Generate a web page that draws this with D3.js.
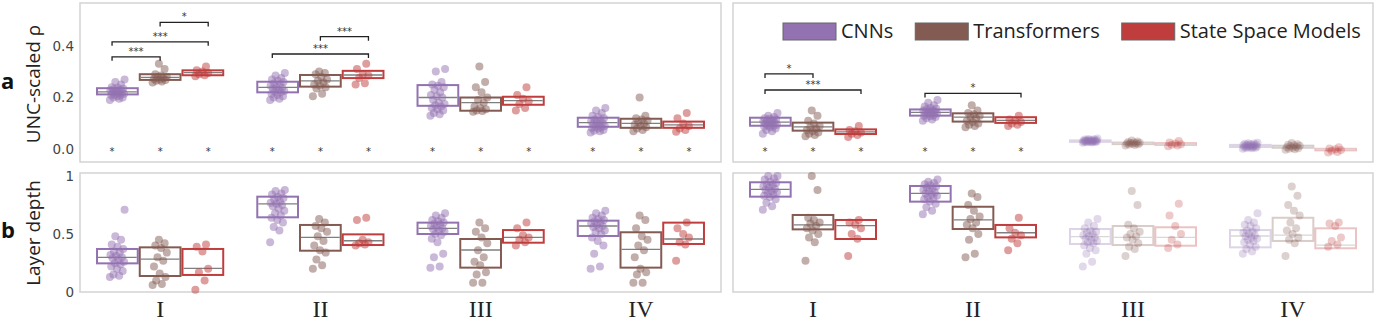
<!DOCTYPE html>
<html>
<head>
<meta charset="utf-8" />
<title>UNC-scaled rho and layer depth</title>
<script src="https://cdnjs.cloudflare.com/ajax/libs/d3/7.8.5/d3.min.js"></script>
<style>
  body { margin: 0; background: #fff; }
  svg { display: block; }
</style>
</head>
<body>
<svg id="chart" width="1376" height="322"></svg>
<script>
const groups = ['I', 'II', 'III', 'IV']
const models = ['CNNs', 'Transformers', 'State Space Models']
const colors = ['#9372b2', '#845b53', '#c03d3e']
const rhoTicks = [0.0, 0.2, 0.4]
const depthTicks = [0, 0.5, 1]

// box stats [q1, median, q3], per group then per model
const rhoLeftBoxes = [
  [[0.212, 0.222, 0.236], [0.268, 0.278, 0.290], [0.286, 0.296, 0.305]],
  [[0.220, 0.239, 0.261], [0.242, 0.264, 0.287], [0.275, 0.287, 0.303]],
  [[0.168, 0.200, 0.248], [0.149, 0.180, 0.200], [0.172, 0.188, 0.203]],
  [[0.087, 0.103, 0.122], [0.083, 0.100, 0.118], [0.083, 0.094, 0.107]]
]
const rhoRightBoxes = [
  [[0.091, 0.105, 0.122], [0.072, 0.087, 0.103], [0.059, 0.067, 0.077]],
  [[0.130, 0.143, 0.154], [0.107, 0.124, 0.139], [0.102, 0.112, 0.124]],
  [[0.029, 0.031, 0.034], [0.020, 0.023, 0.026], [0.017, 0.020, 0.024]],
  [[0.009, 0.013, 0.017], [0.006, 0.010, 0.014], [-0.004, 0.000, 0.002]]
]
const depthLeftBoxes = [
  [[0.247, 0.299, 0.371], [0.138, 0.284, 0.385], [0.147, 0.204, 0.371]],
  [[0.644, 0.759, 0.822], [0.356, 0.471, 0.578], [0.405, 0.442, 0.497]],
  [[0.500, 0.549, 0.598], [0.210, 0.362, 0.457], [0.425, 0.471, 0.534]],
  [[0.483, 0.569, 0.615], [0.210, 0.368, 0.515], [0.414, 0.457, 0.598]]
]
const depthRightBoxes = [
  [[0.822, 0.885, 0.946], [0.540, 0.578, 0.664], [0.457, 0.572, 0.621]],
  [[0.779, 0.851, 0.914], [0.543, 0.621, 0.735], [0.471, 0.511, 0.578]],
  [[0.414, 0.477, 0.543], [0.405, 0.471, 0.569], [0.399, 0.471, 0.558]],
  [[0.385, 0.483, 0.534], [0.440, 0.491, 0.640], [0.377, 0.405, 0.549]]
]

// individual model values, per group
const rhoLeftCNN = [
  [0.19, 0.195, 0.20, 0.20, 0.205, 0.21, 0.21, 0.212, 0.215, 0.218, 0.22, 0.222, 0.225, 0.228, 0.23, 0.232, 0.235, 0.238, 0.24, 0.25, 0.26, 0.27],
  [0.19, 0.195, 0.20, 0.205, 0.21, 0.215, 0.22, 0.222, 0.225, 0.23, 0.235, 0.238, 0.24, 0.245, 0.25, 0.255, 0.26, 0.265, 0.27, 0.275, 0.285, 0.295],
  [0.13, 0.135, 0.14, 0.15, 0.155, 0.16, 0.165, 0.17, 0.175, 0.18, 0.19, 0.20, 0.205, 0.21, 0.22, 0.23, 0.24, 0.245, 0.25, 0.26, 0.30, 0.31],
  [0.065, 0.07, 0.072, 0.075, 0.08, 0.082, 0.085, 0.088, 0.09, 0.095, 0.10, 0.102, 0.105, 0.108, 0.11, 0.115, 0.12, 0.125, 0.13, 0.14, 0.15, 0.16]
]
const rhoLeftTrans = [
  [0.258, 0.262, 0.265, 0.268, 0.27, 0.272, 0.275, 0.278, 0.28, 0.285, 0.29, 0.31, 0.33],
  [0.205, 0.215, 0.235, 0.24, 0.245, 0.25, 0.258, 0.265, 0.27, 0.28, 0.29, 0.295, 0.30],
  [0.145, 0.148, 0.15, 0.155, 0.16, 0.165, 0.18, 0.19, 0.20, 0.22, 0.24, 0.26, 0.32],
  [0.07, 0.075, 0.08, 0.085, 0.09, 0.095, 0.10, 0.105, 0.11, 0.115, 0.12, 0.13, 0.20]
]
const rhoLeftSSM = [
  [0.282, 0.286, 0.29, 0.295, 0.30, 0.305, 0.32],
  [0.25, 0.255, 0.275, 0.285, 0.29, 0.31, 0.33],
  [0.15, 0.16, 0.175, 0.185, 0.195, 0.21, 0.24],
  [0.068, 0.075, 0.08, 0.09, 0.10, 0.12, 0.14]
]
const rhoRightCNN = [
  [0.06, 0.07, 0.075, 0.08, 0.085, 0.088, 0.09, 0.092, 0.095, 0.098, 0.10, 0.103, 0.105, 0.108, 0.11, 0.112, 0.115, 0.118, 0.12, 0.125, 0.13, 0.14],
  [0.11, 0.115, 0.12, 0.125, 0.128, 0.13, 0.132, 0.135, 0.138, 0.14, 0.142, 0.145, 0.148, 0.15, 0.152, 0.155, 0.158, 0.16, 0.165, 0.17, 0.18, 0.19],
  [0.025, 0.026, 0.027, 0.028, 0.028, 0.029, 0.03, 0.03, 0.031, 0.031, 0.032, 0.032, 0.033, 0.033, 0.034, 0.035, 0.036, 0.037, 0.038, 0.039, 0.04, 0.042],
  [0.002, 0.004, 0.005, 0.006, 0.007, 0.008, 0.009, 0.01, 0.011, 0.012, 0.013, 0.014, 0.015, 0.016, 0.017, 0.018, 0.019, 0.02, 0.021, 0.022, 0.023, 0.025]
]
const rhoRightTrans = [
  [0.05, 0.055, 0.06, 0.065, 0.07, 0.075, 0.08, 0.085, 0.09, 0.10, 0.11, 0.13, 0.15],
  [0.085, 0.09, 0.095, 0.10, 0.105, 0.11, 0.12, 0.125, 0.13, 0.135, 0.14, 0.15, 0.17],
  [0.015, 0.017, 0.019, 0.02, 0.021, 0.022, 0.023, 0.024, 0.025, 0.026, 0.028, 0.03, 0.034],
  [-0.002, 0.0, 0.002, 0.004, 0.006, 0.008, 0.01, 0.012, 0.014, 0.016, 0.018, 0.02, 0.024]
]
const rhoRightSSM = [
  [0.048, 0.055, 0.06, 0.065, 0.07, 0.075, 0.09],
  [0.09, 0.095, 0.10, 0.105, 0.11, 0.115, 0.13],
  [0.012, 0.015, 0.018, 0.02, 0.022, 0.026, 0.032],
  [-0.012, -0.01, -0.006, -0.003, 0.0, 0.003, 0.008]
]
const depthLeftCNN = [
  [0.13, 0.14, 0.15, 0.18, 0.20, 0.22, 0.24, 0.25, 0.26, 0.28, 0.29, 0.30, 0.31, 0.32, 0.34, 0.35, 0.37, 0.39, 0.41, 0.45, 0.48, 0.71],
  [0.43, 0.53, 0.56, 0.60, 0.62, 0.64, 0.66, 0.68, 0.70, 0.72, 0.74, 0.75, 0.76, 0.77, 0.78, 0.80, 0.81, 0.82, 0.84, 0.85, 0.87, 0.88],
  [0.21, 0.22, 0.30, 0.33, 0.43, 0.46, 0.49, 0.50, 0.52, 0.53, 0.54, 0.55, 0.56, 0.57, 0.58, 0.59, 0.60, 0.61, 0.62, 0.64, 0.66, 0.68],
  [0.20, 0.22, 0.33, 0.40, 0.44, 0.47, 0.50, 0.52, 0.53, 0.55, 0.56, 0.57, 0.58, 0.59, 0.60, 0.61, 0.62, 0.63, 0.64, 0.66, 0.68, 0.70]
]
const depthLeftTrans = [
  [0.06, 0.07, 0.10, 0.13, 0.16, 0.22, 0.27, 0.30, 0.34, 0.38, 0.40, 0.42, 0.45],
  [0.20, 0.23, 0.28, 0.34, 0.36, 0.40, 0.44, 0.48, 0.52, 0.55, 0.57, 0.60, 0.63],
  [0.08, 0.08, 0.15, 0.17, 0.23, 0.26, 0.30, 0.36, 0.42, 0.47, 0.52, 0.55, 0.60],
  [0.08, 0.08, 0.15, 0.17, 0.20, 0.30, 0.36, 0.40, 0.45, 0.48, 0.55, 0.62, 0.66]
]
const depthLeftSSM = [
  [0.02, 0.10, 0.17, 0.20, 0.35, 0.39, 0.41],
  [0.40, 0.41, 0.42, 0.43, 0.45, 0.62, 0.64],
  [0.40, 0.43, 0.45, 0.47, 0.49, 0.55, 0.60],
  [0.27, 0.41, 0.43, 0.47, 0.50, 0.55, 0.60]
]
const depthRightCNN = [
  [0.71, 0.74, 0.77, 0.80, 0.82, 0.83, 0.84, 0.85, 0.86, 0.87, 0.88, 0.89, 0.90, 0.91, 0.92, 0.93, 0.94, 0.95, 0.97, 0.98, 1.0, 1.0],
  [0.67, 0.70, 0.73, 0.76, 0.78, 0.80, 0.81, 0.82, 0.83, 0.84, 0.85, 0.86, 0.87, 0.88, 0.89, 0.90, 0.91, 0.92, 0.93, 0.94, 0.95, 0.97],
  [0.22, 0.26, 0.33, 0.36, 0.38, 0.40, 0.42, 0.43, 0.44, 0.45, 0.46, 0.47, 0.48, 0.49, 0.50, 0.51, 0.52, 0.53, 0.55, 0.57, 0.60, 0.63],
  [0.33, 0.35, 0.37, 0.39, 0.41, 0.43, 0.44, 0.45, 0.46, 0.47, 0.48, 0.49, 0.50, 0.51, 0.52, 0.53, 0.55, 0.57, 0.58, 0.60, 0.62, 0.68]
]
const depthRightTrans = [
  [0.27, 0.43, 0.47, 0.50, 0.53, 0.55, 0.57, 0.59, 0.60, 0.62, 0.64, 0.88, 1.0],
  [0.30, 0.33, 0.45, 0.50, 0.55, 0.58, 0.60, 0.63, 0.65, 0.70, 0.75, 0.82, 0.85],
  [0.31, 0.37, 0.39, 0.42, 0.45, 0.47, 0.48, 0.50, 0.52, 0.55, 0.58, 0.75, 0.87],
  [0.31, 0.42, 0.45, 0.47, 0.50, 0.53, 0.55, 0.60, 0.66, 0.70, 0.75, 0.83, 0.91]
]
const depthRightSSM = [
  [0.31, 0.46, 0.50, 0.55, 0.58, 0.60, 0.62],
  [0.36, 0.42, 0.46, 0.49, 0.51, 0.55, 0.64],
  [0.38, 0.41, 0.45, 0.50, 0.57, 0.66, 0.76],
  [0.39, 0.41, 0.44, 0.47, 0.57, 0.59, 0.60]
]

// significance: [group, model a, model b, bracket level, label]
const rhoLeftBrackets = [
  ['I', 0, 1, 0.357, '***'], ['I', 0, 2, 0.415, '***'], ['I', 1, 2, 0.49, '*'],
  ['II', 0, 2, 0.368, '***'], ['II', 1, 2, 0.435, '***']
]
const rhoRightBrackets = [
  ['I', 0, 1, 0.291, '*'], ['I', 0, 2, 0.229, '***'],
  ['II', 0, 2, 0.216, '*']
]
// groups where each model differs from zero
const rhoLeftZeroSig = ['I', 'II', 'III', 'IV']
const rhoRightZeroSig = ['I', 'II']
const rightFaded = ['III', 'IV']

const svg = d3.select('#chart')
const sans = "'Open Sans', 'Noto Sans', sans-serif"
const tickFont = "'DejaVu Sans', sans-serif"

const panels = [
  { x: [80, 721], y: [162, 3], dom: [-0.049, 0.565], boxes: rhoLeftBoxes, pts: [rhoLeftCNN, rhoLeftTrans, rhoLeftSSM], brackets: rhoLeftBrackets, zero: rhoLeftZeroSig, faded: [], ticks: rhoTicks, fmt: d3.format('.1f') },
  { x: [733, 1373], y: [162, 3], dom: [-0.049, 0.565], boxes: rhoRightBoxes, pts: [rhoRightCNN, rhoRightTrans, rhoRightSSM], brackets: rhoRightBrackets, zero: rhoRightZeroSig, faded: rightFaded, legend: true },
  { x: [80, 721], y: [292, 173], dom: [0, 1.026], boxes: depthLeftBoxes, pts: [depthLeftCNN, depthLeftTrans, depthLeftSSM], brackets: [], zero: [], faded: [], ticks: depthTicks, fmt: d3.format('~g'), xlabels: true },
  { x: [733, 1373], y: [292, 173], dom: [0, 1.026], boxes: depthRightBoxes, pts: [depthRightCNN, depthRightTrans, depthRightSSM], brackets: [], zero: [], faded: rightFaded, xlabels: true }
]

panels.forEach(p => {
  const g = svg.append('g')
  const x = d3.scaleBand().domain(groups).range(p.x)
  const bw = x.bandwidth()
  const boxX = d3.scaleBand().domain(models).range([bw * 0.1, bw * 0.9])
  const sigX = d3.scaleBand().domain(models).range([bw * 0.05, bw * 0.95])
  const y = d3.scaleLinear().domain(p.dom).range(p.y)

  g.append('rect')
    .attr('x', p.x[0]).attr('y', p.y[1])
    .attr('width', p.x[1] - p.x[0]).attr('height', p.y[0] - p.y[1])
    .attr('fill', 'none').attr('stroke', '#d3d3d3').attr('stroke-width', 1.5)

  if (p.ticks) {
    const ax = d3.axisLeft(y).tickValues(p.ticks).tickFormat(p.fmt).tickSize(0).tickPadding(6)
    const axg = g.append('g').attr('transform', `translate(${p.x[0]},0)`).call(ax)
    axg.select('.domain').remove()
    axg.selectAll('text').attr('font-family', tickFont).attr('font-size', 13.5).attr('fill', '#444')
  }
  if (p.xlabels) {
    const ax = d3.axisBottom(x).tickSize(0).tickPadding(8)
    const axg = g.append('g').attr('transform', `translate(0,${p.y[0]})`).call(ax)
    axg.select('.domain').remove()
    axg.selectAll('text').attr('font-family', "'Liberation Serif', serif").attr('font-size', 24).attr('fill', '#222')
  }

  groups.forEach((grp, gi) => {
    const fade = p.faded.includes(grp)
    models.forEach((m, mi) => {
      const [q1, med, q3] = p.boxes[gi][mi]
      const cx = x(grp) + boxX(m) + boxX.bandwidth() / 2
      const w = boxX.bandwidth()
      const hi = Math.max(y(q1) - y(q3), 1.5)
      const bg = g.append('g').attr('opacity', fade ? 0.3 : 1)
      bg.append('rect')
        .attr('x', cx - w / 2 + 1).attr('y', (y(q1) + y(q3)) / 2 - hi / 2)
        .attr('width', w - 2).attr('height', hi)
        .attr('fill', 'none').attr('stroke', colors[mi]).attr('stroke-width', 2)
      bg.append('line')
        .attr('x1', cx - w / 2 + 2).attr('x2', cx + w / 2 - 2)
        .attr('y1', y(med)).attr('y2', y(med))
        .attr('stroke', '#7f7f7f').attr('stroke-width', 1.3)

      // deterministic strip jitter
      g.append('g').selectAll('circle')
        .data(p.pts[mi][gi])
        .join('circle')
        .attr('cx', (d, i) => cx + (((i * 0.618034) % 1) - 0.5) * 15)
        .attr('cy', d => y(d))
        .attr('r', 4)
        .attr('fill', colors[mi])
        .attr('fill-opacity', fade ? 0.28 : 0.5)
    })

    if (p.zero.includes(grp)) {
      models.forEach(m => {
        g.append('text')
          .attr('x', x(grp) + sigX(m) + sigX.bandwidth() / 2)
          .attr('y', y(0) + 6)
          .attr('text-anchor', 'middle')
          .attr('font-family', tickFont).attr('font-size', 10).attr('fill', '#333')
          .text('*')
      })
    }
  })

  p.brackets.forEach(([grp, a, b, lvl, lab]) => {
    const xa = x(grp) + sigX(models[a]) + sigX.bandwidth() / 2
    const xb = x(grp) + sigX(models[b]) + sigX.bandwidth() / 2
    const yl = y(lvl)
    g.append('path')
      .attr('d', `M${xa},${yl + 4}V${yl}H${xb}V${yl + 4}`)
      .attr('fill', 'none').attr('stroke', '#222').attr('stroke-width', 1.3)
    g.append('text')
      .attr('x', (xa + xb) / 2).attr('y', yl - 2)
      .attr('text-anchor', 'middle')
      .attr('font-family', tickFont).attr('font-size', 10).attr('fill', '#333')
      .text(lab)
  })

  if (p.legend) {
    let lx = 783
    models.forEach((m, mi) => {
      g.append('rect')
        .attr('x', lx).attr('y', 23).attr('width', 53).attr('height', 17)
        .attr('fill', colors[mi]).attr('stroke', '#666').attr('stroke-width', 1)
      const t = g.append('text')
        .attr('x', lx + 58).attr('y', 38)
        .attr('font-family', sans).attr('font-size', 20).attr('fill', '#222')
        .text(m)
      lx += 58 + t.node().getComputedTextLength() + 22
    })
  }
})

// axis titles and panel letters
svg.append('text')
  .attr('transform', 'translate(40,84) rotate(-90)')
  .attr('text-anchor', 'middle')
  .attr('font-family', sans).attr('font-size', 19).attr('fill', '#222')
  .text('UNC-scaled ρ')
svg.append('text')
  .attr('transform', 'translate(40,233) rotate(-90)')
  .attr('text-anchor', 'middle')
  .attr('font-family', sans).attr('font-size', 19).attr('fill', '#222')
  .text('Layer depth')
svg.append('text').attr('x', 1).attr('y', 89)
  .attr('font-family', sans).attr('font-size', 22).attr('font-weight', 'bold').attr('fill', '#111')
  .text('a')
svg.append('text').attr('x', 1).attr('y', 238)
  .attr('font-family', sans).attr('font-size', 22).attr('font-weight', 'bold').attr('fill', '#111')
  .text('b')
</script>
</body>
</html>
